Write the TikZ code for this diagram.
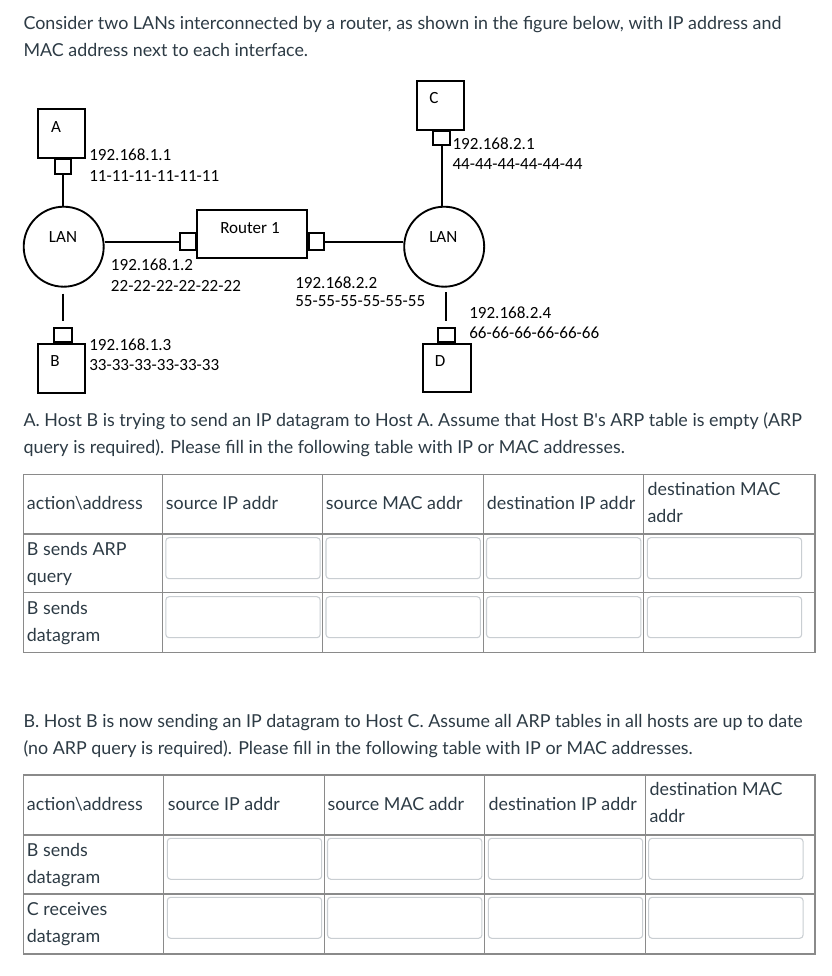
\documentclass[tikz,border=0pt]{standalone}
\usepackage{fontspec}
\setmainfont{Lato}
\newfontfamily\diag{Carlito}
\definecolor{txt}{HTML}{2D3B45}
\definecolor{gridc}{HTML}{8A8A8A}
\definecolor{inboxc}{HTML}{C9CED2}
\tikzset{
  wire/.style={line width=1.4pt, draw=black},
  hostbox/.style={draw, line width=1.4pt, inner sep=0pt, fill=white},
  portbox/.style={draw, line width=1.4pt, inner sep=0pt, fill=white},
  lan/.style={draw, circle, line width=1.4pt, minimum size=60pt, inner sep=0pt},
  dlabel/.style={font=\diag\fontsize{12.8}{14}\selectfont, inner sep=0pt},
  addr/.style={dlabel, anchor=base west},
  para/.style={font=\fontsize{13.4}{16}\selectfont, text=txt, inner sep=0pt, anchor=base west},
  gridline/.style={draw=gridc, line width=0.9pt},
  inbox/.style={draw=inboxc, rounded corners=2.5pt, line width=0.8pt, fill=white}
}
\begin{document}
\begin{tikzpicture}[x=0.75pt,y=-0.75pt]
\useasboundingbox[fill=white] (0,0) rectangle (832,976);

% ---------- intro text ----------
\node[para] (t1) at (23.3,29.5) {Consider two LANs interconnected by a router, as shown in the figure below, with IP address and};
\node[para] (t2) at (23.3,56.5) {MAC address next to each interface.};

% ---------- diagram ----------
\node[hostbox, minimum width=35.6pt, minimum height=36.8pt] (hA) at (61.3,133.5) {};
\node[portbox, minimum width=12.6pt, minimum height=11.3pt, anchor=north] (pA) at (63,158) {};
\node[dlabel] (lA) at (56,126.7) {A};

\node[lan] (lan1) at (63.7,246.7) {};
\node[dlabel] (lan1t) at (63,236.7) {LAN};

\node[hostbox, minimum width=83pt, minimum height=36.2pt] (rt) at (252,234.2) {};
\node[dlabel] (rtt) at (250,227.7) {Router 1};
\node[portbox, minimum width=11.8pt, minimum height=12.5pt, anchor=east] (p1) at (196.7,241.7) {};
\node[portbox, minimum width=11.8pt, minimum height=12.5pt, anchor=west] (p2) at (307.7,241.7) {};

\node[lan] (lan2) at (444.2,246.7) {};
\node[dlabel] (lan2t) at (443.3,236.7) {LAN};

\node[hostbox, minimum width=35.7pt, minimum height=36.8pt] (hC) at (440.5,105.5) {};
\node[portbox, minimum width=12.5pt, minimum height=10.5pt, anchor=north] (pC) at (441.7,130) {};
\node[dlabel] (lC) at (434,98.3) {C};

\node[hostbox, minimum width=35.5pt, minimum height=36.3pt, anchor=north] (hB) at (61.3,343.3) {};
\node[portbox, minimum width=13pt, minimum height=10.5pt, anchor=south] (pB) at (63,343.3) {};
\node[dlabel] (lB) at (55,361) {B};

\node[hostbox, minimum width=36.2pt, minimum height=36pt, anchor=north] (hD) at (446.8,343.3) {};
\node[portbox, minimum width=13pt, minimum height=10.5pt, anchor=south] (pD) at (446.3,343.3) {};
\node[dlabel] (lD) at (440,361) {D};

% connectors
\draw[wire] (pA.south) -- (pA.south |- lan1.north);
\draw[wire] (p1.west) -- (p1.west -| lan1.east);
\draw[wire] (p2.east) -- (p2.east -| lan2.west);
\draw[wire] (pC.south) -- (pC.south |- lan2.north);
\draw[wire, shorten <=4.5pt, shorten >=4.5pt] (pB.north |- lan1.south) -- (pB.north);
\draw[wire, shorten <=3.3pt, shorten >=4.5pt] (pD.north |- lan2.south) -- (pD.north);

% address labels
\node[addr] (aA1) at (89,160) {192.168.1.1};
\node[addr] (aA2) at (89,181.5) {11-11-11-11-11-11};
\node[addr] (aR1) at (110.7,270.5) {192.168.1.2};
\node[addr] (aR2) at (110.7,291.5) {22-22-22-22-22-22};
\node[addr] (aR3) at (295,288) {192.168.2.2};
\node[addr] (aR4) at (295,306.5) {55-55-55-55-55-55};
\node[addr] (aC1) at (452.3,149) {192.168.2.1};
\node[addr] (aC2) at (452.3,169.5) {44-44-44-44-44-44};
\node[addr] (aD1) at (469,318) {192.168.2.4};
\node[addr] (aD2) at (469,338) {66-66-66-66-66-66};
\node[addr] (aB1) at (89,350.5) {192.168.1.3};
\node[addr] (aB2) at (89,370.5) {33-33-33-33-33-33};

% ---------- part A ----------
\node[para] (qa1) at (23.3,426) {A. Host B is trying to send an IP datagram to Host A. Assume that Host B\textquotesingle s ARP table is empty (ARP};
\node[para] (qa2) at (23.3,453) {query is required). Please fill in the following table with IP or MAC addresses.};

\draw[gridline] (23.3,474.3) rectangle (815,652.7);
\foreach \x in {162.3,322.3,483.3,643.3} \draw[gridline] (\x,474.3) -- (\x,652.7);
\foreach \y in {534,592.7} \draw[gridline] (23.3,\y) -- (815,\y);
\foreach \x in {165.8,326,486.5,647.3}{
  \foreach \y in {537.7,596.7} \draw[inbox] (\x,\y) rectangle ++(154.4,41);
}
\node[para] (h11) at (26.7,509.5) {action\textbackslash address};
\node[para] (h12) at (165.7,509.5) {source IP addr};
\node[para] (h13) at (325.7,509.5) {source MAC addr};
\node[para] (h14) at (486.7,509.5) {destination IP addr};
\node[para] (h15) at (647.3,495.5) {destination MAC};
\node[para] (h16) at (647.3,522.5) {addr};
\node[para] (r11) at (26.7,555.5) {B sends ARP};
\node[para] (r12) at (26.7,582.5) {query};
\node[para] (r13) at (26.7,614) {B sends};
\node[para] (r14) at (26.7,641) {datagram};

% ---------- part B ----------
\node[para] (qb1) at (23.3,727) {B. Host B is now sending an IP datagram to Host C. Assume all ARP tables in all hosts are up to date};
\node[para] (qb2) at (23.3,754) {(no ARP query is required). Please fill in the following table with IP or MAC addresses.};

\draw[gridline] (23.3,775) rectangle (815,954);
\foreach \x in {163.3,324.3,484.3,645.7} \draw[gridline] (\x,775) -- (\x,954);
\foreach \y in {835,894} \draw[gridline] (23.3,\y) -- (815,\y);
\foreach \x in {167.3,327.5,488.3,648.7}{
  \foreach \y in {838.3,897.3} \draw[inbox] (\x,\y) rectangle ++(154.4,41);
}
\node[para] (h21) at (26.7,810.5) {action\textbackslash address};
\node[para] (h22) at (167.5,810.5) {source IP addr};
\node[para] (h23) at (327.3,810.5) {source MAC addr};
\node[para] (h24) at (488.3,810.5) {destination IP addr};
\node[para] (h25) at (649.3,795.5) {destination MAC};
\node[para] (h26) at (649.3,822.5) {addr};
\node[para] (r21) at (26.7,856.5) {B sends};
\node[para] (r22) at (26.7,883.5) {datagram};
\node[para] (r23) at (26.7,915) {C receives};
\node[para] (r24) at (26.7,942) {datagram};
\end{tikzpicture}
\end{document}
